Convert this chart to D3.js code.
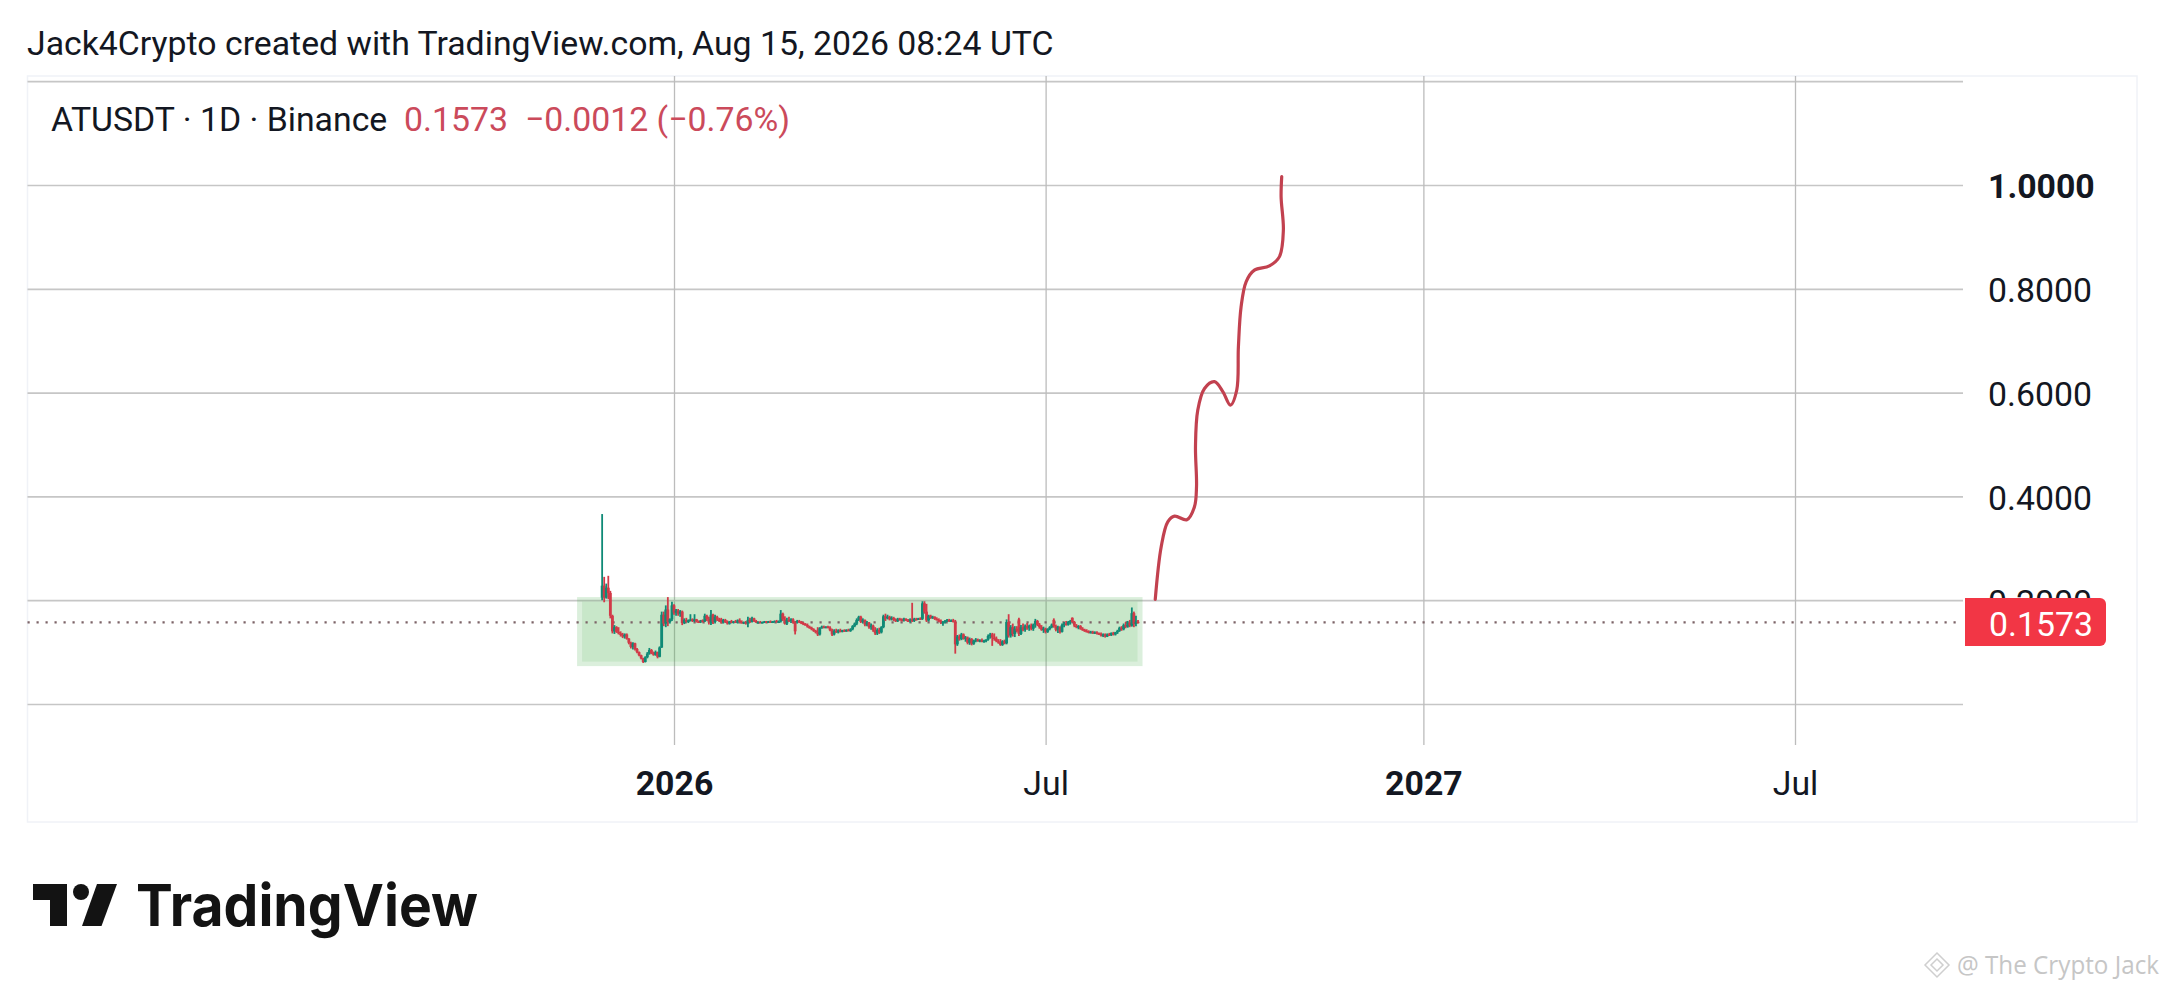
<!DOCTYPE html>
<html>
<head>
<meta charset="utf-8">
<script src="https://cdn.jsdelivr.net/npm/d3@7"></script>
<style>
  html, body { margin: 0; padding: 0; background: #fff; }
  svg { display: block; }
  text { font-family: Roboto, sans-serif; }
  .axis path.domain { display: none; }
</style>
</head>
<body>
<div id="chart"></div>
<script>
// daily candles, first one on firstCandle
var firstCandle = "2025-11-27";
var opens = [
  .205,.228,.205,.224,.214,.170,.140,.148,.139,.136,
  .133,.130,.134,.126,.118,.110,.117,.106,.100,.094,
  .088,.081,.090,.097,.104,.098,.095,.100,.091,.109,
  .172,.155,.182,.158,.163,.190,.176,.180,.174,.178,
  .156,.162,.159,.161,.163,.160,.163,.159,.158,.161,
  .159,.170,.164,.157,.172,.158,.168,.163,.163,.157,
  .162,.158,.155,.159,.157,.159,.157,.161,.158,.156,
  .158,.155,.162,.158,.165,.160,.157,.158,.157,.158,
  .159,.157,.159,.158,.159,.160,.158,.159,.174,.163,
  .155,.162,.160,.163,.157,.157,.160,.158,.156,.154,
  .152,.149,.147,.144,.141,.138,.134,.146,.149,.148,
  .149,.147,.142,.134,.141,.138,.142,.140,.142,.140,
  .143,.141,.144,.150,.155,.162,.168,.158,.162,.153,
  .157,.148,.151,.142,.136,.143,.138,.148,.169,.165,
  .168,.163,.166,.162,.160,.164,.162,.161,.164,.161,
  .160,.163,.160,.164,.163,.165,.164,.194,.178,.161,
  .170,.166,.168,.164,.162,.160,.156,.158,.160,.162,
  .160,.161,.158,.115,.130,.125,.134,.127,.128,.118,
  .125,.116,.122,.124,.121,.123,.120,.122,.124,.131,
  .134,.128,.126,.121,.119,.114,.121,.117,.158,.132,
  .148,.135,.145,.163,.135,.148,.143,.150,.146,.151,
  .145,.153,.160,.153,.148,.143,.145,.139,.144,.148,
  .162,.150,.143,.148,.139,.152,.155,.153,.158,.166,
  .158,.151,.148,.150,.145,.143,.141,.140,.138,.139,
  .137,.138,.136,.135,.132,.134,.130,.134,.133,.137,
  .134,.138,.141,.147,.144,.152,.149,.157,.151,.175,
  .154,.1585
];
var highs = [
  .366,.245,.232,.247,.218,.172,.152,.150,.148,.140,
  .137,.136,.136,.127,.120,.119,.118,.108,.101,.095,
  .089,.092,.100,.108,.106,.101,.103,.101,.111,.178,
  .178,.190,.206,.165,.197,.192,.183,.183,.181,.180,
  .165,.166,.163,.173,.165,.173,.164,.161,.162,.163,
  .174,.172,.168,.181,.174,.172,.170,.166,.166,.164,
  .164,.161,.160,.162,.160,.162,.163,.165,.161,.159,
  .160,.168,.166,.168,.166,.162,.159,.160,.159,.160,
  .160,.160,.161,.160,.161,.162,.161,.181,.176,.169,
  .166,.168,.165,.165,.160,.162,.162,.160,.158,.156,
  .155,.151,.149,.146,.143,.148,.148,.151,.151,.150,
  .151,.150,.145,.144,.145,.144,.145,.143,.144,.144,
  .145,.146,.152,.157,.165,.170,.170,.165,.163,.160,
  .158,.155,.153,.148,.146,.147,.150,.172,.174,.172,
  .170,.169,.168,.165,.166,.166,.165,.166,.165,.164,
  .165,.195,.166,.166,.166,.167,.198,.198,.193,.172,
  .172,.170,.169,.167,.165,.163,.160,.162,.164,.164,
  .163,.164,.162,.133,.134,.137,.136,.131,.130,.128,
  .127,.124,.127,.126,.125,.126,.124,.125,.134,.137,
  .137,.136,.130,.125,.125,.123,.124,.163,.173,.152,
  .155,.150,.150,.166,.152,.155,.153,.156,.153,.155,
  .155,.164,.162,.156,.152,.149,.147,.146,.150,.155,
  .165,.153,.151,.150,.155,.158,.160,.160,.162,.167,
  .160,.154,.152,.152,.148,.145,.144,.142,.141,.141,
  .140,.140,.138,.138,.136,.136,.136,.137,.138,.139,
  .139,.143,.149,.150,.155,.158,.160,.162,.186,.178,
  .170,.162
];
var lows = [
  .200,.196,.203,.202,.165,.136,.135,.137,.134,.130,
  .127,.126,.124,.115,.107,.105,.103,.098,.092,.086,
  .079,.080,.088,.095,.096,.093,.093,.088,.090,.108,
  .150,.148,.150,.155,.160,.172,.170,.170,.168,.152,
  .154,.157,.156,.159,.158,.158,.157,.156,.156,.157,
  .158,.160,.153,.152,.154,.155,.160,.158,.155,.155,
  .156,.153,.153,.156,.155,.156,.155,.156,.155,.154,
  .153,.148,.156,.157,.158,.156,.155,.156,.155,.156,
  .156,.156,.157,.156,.157,.157,.156,.157,.160,.153,
  .152,.158,.156,.155,.134,.155,.156,.154,.152,.151,
  .147,.145,.142,.139,.136,.131,.132,.145,.146,.146,
  .146,.140,.131,.132,.137,.136,.138,.138,.139,.139,
  .140,.139,.142,.148,.152,.160,.156,.155,.150,.150,
  .145,.143,.139,.133,.133,.135,.136,.146,.160,.163,
  .161,.161,.160,.158,.158,.161,.160,.159,.160,.158,
  .157,.158,.158,.161,.162,.162,.162,.174,.158,.159,
  .164,.164,.162,.161,.158,.154,.151,.155,.158,.158,
  .158,.157,.097,.112,.122,.123,.124,.120,.115,.114,
  .113,.114,.119,.120,.119,.119,.118,.119,.122,.126,
  .112,.122,.119,.116,.112,.112,.115,.115,.128,.128,
  .130,.129,.138,.131,.133,.140,.139,.143,.141,.142,
  .141,.147,.150,.145,.141,.137,.136,.137,.142,.146,
  .147,.140,.137,.136,.138,.148,.151,.151,.153,.157,
  .148,.146,.144,.143,.141,.139,.138,.136,.136,.135,
  .135,.134,.133,.130,.129,.128,.129,.131,.131,.132,
  .132,.135,.139,.141,.142,.146,.147,.148,.149,.148,
  .150,.155
];
var closes = [
  .228,.205,.224,.214,.170,.140,.148,.139,.136,.133,
  .130,.134,.126,.118,.110,.117,.106,.100,.094,.088,
  .081,.090,.097,.104,.098,.095,.100,.091,.109,.172,
  .155,.182,.158,.163,.190,.176,.180,.174,.178,.156,
  .162,.159,.161,.163,.160,.163,.159,.158,.161,.159,
  .170,.164,.157,.172,.158,.168,.163,.160,.157,.162,
  .158,.155,.159,.157,.159,.157,.161,.158,.156,.158,
  .155,.162,.158,.165,.160,.157,.158,.157,.158,.159,
  .157,.159,.158,.159,.160,.158,.159,.174,.163,.155,
  .162,.160,.163,.157,.140,.160,.158,.156,.154,.152,
  .149,.147,.144,.141,.138,.134,.146,.149,.148,.149,
  .147,.142,.134,.141,.138,.142,.140,.142,.140,.143,
  .141,.144,.150,.155,.162,.168,.158,.162,.153,.157,
  .148,.151,.142,.136,.143,.138,.148,.169,.165,.168,
  .163,.166,.162,.160,.164,.162,.161,.164,.161,.160,
  .163,.160,.164,.163,.165,.164,.194,.178,.161,.170,
  .166,.168,.164,.162,.160,.156,.158,.160,.162,.160,
  .161,.158,.115,.130,.125,.134,.127,.128,.118,.125,
  .116,.122,.124,.121,.123,.120,.122,.124,.131,.134,
  .128,.126,.121,.119,.114,.121,.117,.158,.132,.148,
  .135,.145,.141,.135,.148,.143,.150,.146,.151,.145,
  .153,.160,.153,.148,.143,.145,.139,.144,.148,.153,
  .150,.143,.148,.139,.152,.155,.153,.158,.160,.158,
  .151,.148,.150,.145,.143,.141,.140,.138,.139,.137,
  .138,.136,.135,.132,.134,.130,.134,.133,.137,.134,
  .138,.141,.147,.144,.152,.149,.157,.151,.175,.154,
  .1585,.1573
];

// the hand drawn projection: day counted from 1 Jan 2026, price
var projDays = [234.4,237.3,240.5,243.8,249.8,253.5,254.5,254,255.1,258.4,263.3,267.3,271,274.1,274.9,276.2,278.7,282.7,290,294.9,296.8,295.7,296];
var projPrice = [.2017,.303,.351,.362,.355,.38,.419,.496,.566,.608,.621,.602,.576,.605,.688,.765,.814,.836,.844,.862,.913,.977,1.016];

// green box
var boxDays = [-47.2, 228.2];
var boxPrice = [.206, .073];

var lastPrice = 0.1573;
var gridPrices = [0, .2, .4, .6, .8, 1, 1.2];
var priceLabels = [.2, .4, .6, .8, 1];
var boldPrices = [1];
var timeTicks = ["2026-01-01", "2026-07-01", "2027-01-01", "2027-07-01"];
var timeLabels = ["2026", "Jul", "2027", "Jul"];
var boldTimes = ["2026", "2027"];

var titleText = "Jack4Crypto created with TradingView.com, Aug 15, 2026 08:24 UTC";
var symbolText = "ATUSDT · 1D · Binance";
var legendPrice = "0.1573";
var legendChange = "−0.0012 (−0.76%)";
var watermark = "@ The Crypto Jack";

function drawChart() {
    var W = 2165, H = 991;
    var frame = {left: 27.5, right: 2137, top: 76, bottom: 822};
    var paneRight = 1963, paneBottom = 745;
    var textSize = 33.8;

    var parseDay = d3.utcParse("%Y-%m-%d");
    var jan1 = parseDay("2026-01-01");
    function fromDays(d) { return new Date(+jan1 + d * 864e5); }

    var x = d3.scaleUtc()
        .domain([jan1, parseDay("2027-07-01")])
        .range([674, 1795]);
    var y = d3.scaleLinear()
        .domain([0, 1.2])
        .range([704, 81.2]);

    var svg = d3.select("#chart").append("svg")
        .attr("width", W)
        .attr("height", H);

    svg.append("rect")
        .attr("width", W)
        .attr("height", H)
        .attr("fill", "#fff");

    // title
    svg.append("text")
        .attr("x", 27)
        .attr("y", 55)
        .attr("font-size", textSize)
        .attr("fill", "#131722")
        .text(titleText);

    // frame
    svg.append("rect")
        .attr("x", frame.left)
        .attr("y", frame.top)
        .attr("width", frame.right - frame.left)
        .attr("height", frame.bottom - frame.top)
        .attr("fill", "none")
        .attr("stroke", "#f0f2f7")
        .attr("stroke-width", 1.5);

    // horizontal grid
    var gridY = svg.append("g")
        .attr("class", "axis")
        .attr("transform", "translate(" + frame.left + ",0)")
        .call(d3.axisRight(y).tickValues(gridPrices).tickSize(paneRight - frame.left).tickFormat(""));
    gridY.selectAll("line").attr("stroke", "#c6c6c6").attr("stroke-width", 1.7);

    // vertical grid
    var timeDates = timeTicks.map(parseDay);
    var gridX = svg.append("g")
        .attr("class", "axis")
        .attr("transform", "translate(0," + paneBottom + ")")
        .call(d3.axisTop(x).tickValues(timeDates).tickSize(paneBottom - frame.top).tickFormat(""));
    gridX.selectAll("line").attr("stroke", "#bcbcbc").attr("stroke-width", 1.3);

    // green box, light outer band and stronger inner part
    var bx0 = x(fromDays(boxDays[0])), bx1 = x(fromDays(boxDays[1]));
    var by0 = y(boxPrice[0]), by1 = y(boxPrice[1]);
    svg.append("rect")
        .attr("x", bx0).attr("y", by0)
        .attr("width", bx1 - bx0).attr("height", by1 - by0)
        .attr("fill", "rgba(76,175,80,0.2)");
    svg.append("rect")
        .attr("x", bx0 + 5).attr("y", by0 + 4.5)
        .attr("width", bx1 - bx0 - 10).attr("height", by1 - by0 - 9)
        .attr("fill", "rgba(76,175,80,0.13)");

    // last price line
    svg.append("line")
        .attr("x1", frame.left)
        .attr("x2", 1958)
        .attr("y1", y(lastPrice))
        .attr("y2", y(lastPrice))
        .attr("stroke", "#7d6468")
        .attr("stroke-width", 2.2)
        .attr("stroke-dasharray", "2.2 6.8");

    // candles
    var day0 = parseDay(firstCandle);
    var candles = closes.map(function(c, i) {
        return {date: d3.utcDay.offset(day0, i), o: opens[i], h: highs[i], l: lows[i], c: c};
    });
    var colour = function(d) { return d.c >= d.o ? "#0f8a76" : "#d23a48"; };

    var bar = svg.append("g").selectAll("g")
        .data(candles)
        .enter().append("g");

    bar.append("line")
        .attr("x1", function(d) { return x(d.date); })
        .attr("x2", function(d) { return x(d.date); })
        .attr("y1", function(d) { return y(d.h); })
        .attr("y2", function(d) { return y(d.l); })
        .attr("stroke", colour)
        .attr("stroke-width", 1.8);

    bar.append("rect")
        .attr("x", function(d) { return x(d.date) - 1.4; })
        .attr("y", function(d) { return y(Math.max(d.o, d.c)); })
        .attr("width", 2.8)
        .attr("height", function(d) { return Math.max(1.5, Math.abs(y(d.o) - y(d.c))); })
        .attr("fill", colour);

    // projection
    var line = d3.line()
        .x(function(d) { return x(fromDays(d)); })
        .y(function(d, i) { return y(projPrice[i]); })
        .curve(d3.curveCatmullRom);

    svg.append("path")
        .attr("d", line(projDays))
        .attr("fill", "none")
        .attr("stroke", "#c2414f")
        .attr("stroke-width", 3.2)
        .attr("stroke-linecap", "round");

    // legend
    var legend = svg.append("text")
        .attr("x", 51)
        .attr("y", 131)
        .attr("font-size", textSize)
        .attr("fill", "#131722");
    legend.append("tspan").text(symbolText);
    legend.append("tspan").attr("x", 404).attr("fill", "#cb4a5b").text(legendPrice);
    legend.append("tspan").attr("x", 525).attr("fill", "#cb4a5b").text(legendChange);

    // price axis
    var axisY = svg.append("g")
        .attr("class", "axis")
        .attr("transform", "translate(1988,2)")
        .call(d3.axisRight(y).tickValues(priceLabels).tickSize(0).tickPadding(0).tickFormat(d3.format(".4f")));
    axisY.selectAll("text")
        .attr("font-size", textSize)
        .attr("fill", "#131722")
        .attr("font-family", "Roboto, sans-serif")
        .attr("font-weight", function(d) { return boldPrices.indexOf(d) >= 0 ? 700 : 400; });

    // last price label
    svg.append("path")
        .attr("d", "M1965,598H2100a6,6 0 0 1 6,6V640a6,6 0 0 1 -6,6H1965Z")
        .attr("fill", "#f23645");
    svg.append("text")
        .attr("x", 1989)
        .attr("y", y(lastPrice) + 14)
        .attr("font-size", textSize)
        .attr("fill", "#fff")
        .text(d3.format(".4f")(lastPrice));

    // time axis
    var axisX = svg.append("g")
        .attr("class", "axis")
        .attr("transform", "translate(0,771)")
        .call(d3.axisBottom(x).tickValues(timeDates).tickSize(0).tickPadding(0)
            .tickFormat(function(d, i) { return timeLabels[i]; }));
    axisX.selectAll("text")
        .attr("font-size", textSize)
        .attr("fill", "#131722")
        .attr("font-family", "Roboto, sans-serif")
        .attr("font-weight", function(d, i) { return boldTimes.indexOf(timeLabels[i]) >= 0 ? 700 : 400; });

    // logo
    var logo = svg.append("g").attr("fill", "#131313");
    logo.append("path").attr("d", "M33,884H67V926H50V900H33Z");
    logo.append("circle").attr("cx", 81).attr("cy", 892).attr("r", 8);
    logo.append("path").attr("d", "M97,884H117L101.5,926H82Z");
    logo.append("text")
        .attr("x", 136)
        .attr("y", 926)
        .attr("font-size", 58)
        .attr("font-weight", 700)
        .attr("textLength", 342)
        .attr("lengthAdjust", "spacingAndGlyphs")
        .style("font-family", "Inter, sans-serif")
        .text("TradingView");

    // watermark
    var wm = svg.append("g").attr("fill", "none").attr("stroke", "#cfcfcf").attr("stroke-width", 1.5);
    wm.append("path").attr("d", "M1937,953L1949,965L1937,977L1925,965Z");
    wm.append("path").attr("d", "M1937,959L1943,965L1937,971L1931,965Z");
    svg.append("text")
        .attr("x", 1957)
        .attr("y", 974)
        .attr("font-size", 26)
        .attr("fill", "#c6c6c6")
        .style("font-family", "'Open Sans', sans-serif")
        .style("font-weight", 400)
        .attr("textLength", 202)
        .attr("lengthAdjust", "spacingAndGlyphs")
        .text(watermark);
}

drawChart();
</script>
</body>
</html>
